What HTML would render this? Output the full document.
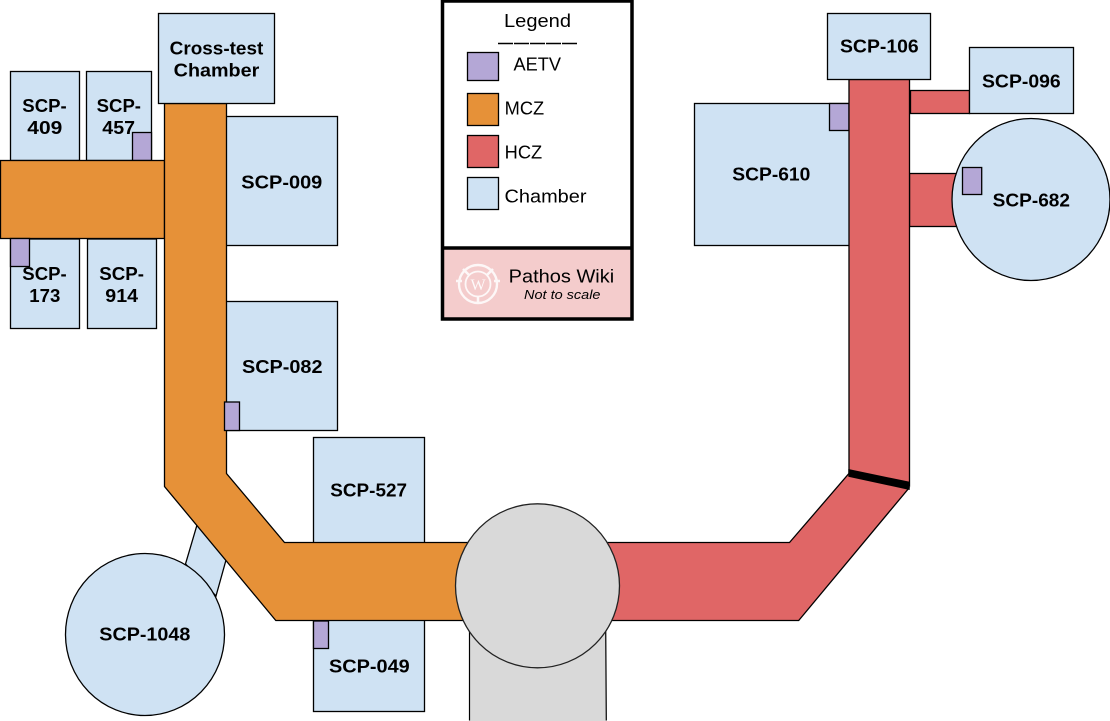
<!DOCTYPE html>
<html lang="en">
<head>
<meta charset="utf-8">
<title>Facility map</title>
<style>
html,body{margin:0;padding:0;background:#fff;width:1110px;height:721px;overflow:hidden}
svg{display:block}
text{font-family:"Liberation Sans",sans-serif;fill:#000}
.b{font-size:18px;font-weight:700}
.r{font-size:18px}
.s{stroke:#000;stroke-width:1.3}
.c{fill:#cfe2f3}
.o{fill:#e69138}
.h{fill:#e06666}
.p{fill:#b4a7d6}
.g{fill:#d9d9d9}
</style>
</head>
<body>
<svg width="1110" height="721" viewBox="0 0 1110 721" xmlns="http://www.w3.org/2000/svg">
<!-- left chambers -->
<rect class="c s" x="10.5" y="71.5" width="69" height="89"/>
<rect class="c s" x="86.5" y="71.5" width="65" height="89"/>
<rect class="c s" x="10.5" y="239" width="69" height="89.5"/>
<rect class="c s" x="87.5" y="239" width="69" height="89.5"/>
<rect class="c s" x="226" y="116.5" width="111.5" height="129"/>
<rect class="c s" x="226" y="301.5" width="111.5" height="129"/>
<rect class="c s" x="313.5" y="437.5" width="111" height="110"/>
<rect class="c s" x="313.5" y="616" width="111" height="95.5"/>
<text class="b" x="22.3" y="112" textLength="44.4" lengthAdjust="spacingAndGlyphs">SCP-</text>
<text class="b" x="27.3" y="134" textLength="35" lengthAdjust="spacingAndGlyphs">409</text>
<text class="b" x="96.7" y="112" textLength="44.3" lengthAdjust="spacingAndGlyphs">SCP-</text>
<text class="b" x="102.3" y="134" textLength="32.7" lengthAdjust="spacingAndGlyphs">457</text>
<text class="b" x="22.3" y="280" textLength="44.4" lengthAdjust="spacingAndGlyphs">SCP-</text>
<text class="b" x="29.3" y="302" textLength="31" lengthAdjust="spacingAndGlyphs">173</text>
<text class="b" x="99.3" y="280" textLength="44.7" lengthAdjust="spacingAndGlyphs">SCP-</text>
<text class="b" x="105.3" y="302" textLength="32.7" lengthAdjust="spacingAndGlyphs">914</text>
<text class="b" x="241.3" y="188.3" textLength="81" lengthAdjust="spacingAndGlyphs">SCP-009</text>
<text class="b" x="242" y="373" textLength="80.5" lengthAdjust="spacingAndGlyphs">SCP-082</text>
<text class="b" x="330.3" y="496.7" textLength="76.7" lengthAdjust="spacingAndGlyphs">SCP-527</text>
<text class="b" x="329" y="672.7" textLength="80.7" lengthAdjust="spacingAndGlyphs">SCP-049</text>
<rect class="p s" x="132.5" y="132.5" width="19" height="28"/>
<!-- 1048 connector -->
<polygon class="c s" points="197,525 226,560 216,596 185.5,564"/>
<ellipse class="c s" cx="145" cy="634.5" rx="79.5" ry="81"/>
<text class="b" x="99.3" y="640.7" textLength="91" lengthAdjust="spacingAndGlyphs">SCP-1048</text>
<!-- MCZ corridors -->
<rect class="o s" x="0.5" y="160.5" width="164" height="78"/>
<polygon class="o s" points="164.5,103.5 226.5,103.5 226.5,473.5 284.5,542.5 500,542.5 500,620.5 275.8,620.5 164.5,486.5"/>
<rect class="p s" x="10.5" y="238.5" width="19" height="28"/>
<rect class="p s" x="224.5" y="402" width="15" height="28.5"/>
<rect class="p s" x="313.5" y="621" width="15" height="27.5"/>
<rect class="c s" x="158.5" y="13.5" width="116" height="90"/>
<text class="b" x="169.7" y="54.3" textLength="93.6" lengthAdjust="spacingAndGlyphs">Cross-test</text>
<text class="b" x="173.7" y="76.3" textLength="85.6" lengthAdjust="spacingAndGlyphs">Chamber</text>
<!-- HCZ corridors -->
<rect class="h s" x="910.5" y="90.5" width="59" height="23"/>
<rect class="h s" x="909.5" y="173.5" width="60" height="53"/>
<rect class="c s" x="694.5" y="103.5" width="155" height="142"/>
<text class="b" x="732.3" y="180.7" textLength="78" lengthAdjust="spacingAndGlyphs">SCP-610</text>
<rect class="p s" x="829.5" y="103.5" width="19.5" height="27"/>
<polygon class="h s" points="560,542.5 789.5,542.5 848.5,474 909,488 798.7,620.5 560,620.5"/>
<polygon class="h s" points="849,79.5 909.5,79.5 909.5,486 849,472.8"/>
<polygon fill="#000" points="848.3,469 909.7,481.8 909.7,490 848.3,476.8"/>
<rect class="c s" x="827.5" y="13.5" width="103" height="66"/>
<text class="b" x="840" y="52.7" textLength="78.7" lengthAdjust="spacingAndGlyphs">SCP-106</text>
<rect class="c s" x="969.5" y="47.5" width="104" height="66"/>
<text class="b" x="982" y="87.3" textLength="78.7" lengthAdjust="spacingAndGlyphs">SCP-096</text>
<ellipse class="c s" cx="1031" cy="199.5" rx="79" ry="81"/>
<text class="b" x="992.7" y="206.3" textLength="77.3" lengthAdjust="spacingAndGlyphs">SCP-682</text>
<rect class="p s" x="962.5" y="167.5" width="19.2" height="27"/>
<!-- central hub -->
<path class="g" d="M469.5 625H605.7L606.3 721H469.5Z"/>
<path d="M469.5 625V720.5M605.7 625L606.3 720.5" fill="none" stroke="#000" stroke-width="1.2"/>
<circle class="g" cx="537.5" cy="585.8" r="82" stroke="#222" stroke-width="1.3"/>
<!-- legend -->
<rect x="442.5" y="1" width="189.5" height="247" fill="#fff"/>
<rect x="442.5" y="248" width="189.5" height="71" fill="#f4cccc"/>
<rect x="442.5" y="1" width="189.5" height="318" fill="none" stroke="#000" stroke-width="3.5"/>
<line x1="442" y1="248" x2="632" y2="248" stroke="#000" stroke-width="3.5"/>
<text class="r" x="504" y="27" textLength="67" lengthAdjust="spacingAndGlyphs">Legend</text>
<path d="M498 43.5H513M514 43.5H529M530 43.5H545M546 43.5H561M562 43.5H577" stroke="#000" stroke-width="1.5" fill="none"/>
<rect class="p s" x="467.5" y="52.5" width="31" height="28"/>
<rect class="o s" x="467.5" y="93.5" width="31" height="32"/>
<rect class="h s" x="467.5" y="135.5" width="31" height="32"/>
<rect class="c s" x="467.5" y="177.5" width="31" height="32"/>
<text class="r" x="513.5" y="70.7" textLength="47.5" lengthAdjust="spacingAndGlyphs">AETV</text>
<text class="r" x="504.7" y="114.7" textLength="39.5" lengthAdjust="spacingAndGlyphs">MCZ</text>
<text class="r" x="504.7" y="158.7" textLength="37.5" lengthAdjust="spacingAndGlyphs">HCZ</text>
<text class="r" x="504.5" y="202.3" textLength="82" lengthAdjust="spacingAndGlyphs">Chamber</text>
<!-- logo -->
<g fill="none" stroke="#fff" opacity=".85">
<circle cx="478" cy="284" r="19" stroke-width="2.4"/>
<circle cx="478" cy="284" r="12.5" stroke-width="1.8"/>
<path d="M456 281H462M494 281H500M478 297V303M463 269L469 275M493 269L487 275" stroke-width="2.5"/>
</g>
<text x="478" y="290" text-anchor="middle" style="font-family:'Liberation Serif',serif;font-size:16px;fill:#fff" opacity=".9">W</text>
<text class="r" x="508.7" y="282.3" textLength="105.5" lengthAdjust="spacingAndGlyphs">Pathos Wiki</text>
<text x="524" y="299" font-size="12.5" font-style="italic" textLength="76.5" lengthAdjust="spacingAndGlyphs">Not to scale</text>
</svg>
</body>
</html>
